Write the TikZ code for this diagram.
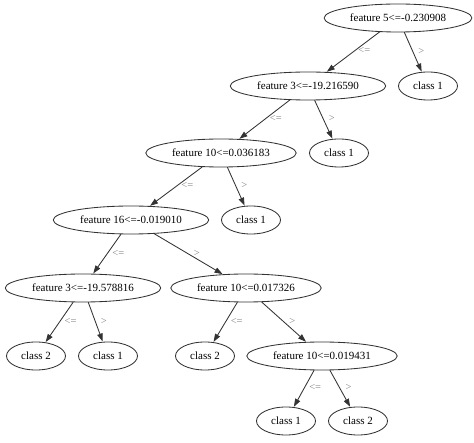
\documentclass[tikz,border=0pt]{standalone}
\usepackage{fontspec}
\setmainfont{Liberation Serif}
\usepackage{xcolor}
\usepackage{tikz}
\usetikzlibrary{shapes.geometric, arrows.meta}

\tikzset{
  split/.style={ellipse, draw=black!80, line width=0.85pt, inner sep=4.2pt, minimum height=28pt,
    font=\fontsize{11}{13}\selectfont},
  leaf/.style={split, minimum width=59pt},
  edge/.style={draw=black!80, line width=0.85pt, -{Triangle[length=8pt, width=5.5pt]}, shorten >=0.3pt},
  lbl/.style={right, inner sep=0pt, xshift=5pt, yshift=1pt, text=black!50, font=\fontsize{10.5}{12}\selectfont}
}

\begin{document}
\begin{tikzpicture}[x=1pt, y=-1pt, line cap=round, line join=round]
  \useasboundingbox (0,0) rectangle (474,443);
  % inner splits
  \node[split] (n0) at (398,18)  {feature 5<=-0.230908};
  \node[split] (n1) at (308,86)  {feature 3<=-19.216590};
  \node[split] (n2) at (221,153) {feature 10<=0.036183};
  \node[split] (n3) at (131,220) {feature 16<=-0.019010};
  \node[split] (n4) at (83,288)  {feature 3<=-19.578816};
  \node[split] (n5) at (246,288) {feature 10<=0.017326};
  \node[split] (n6) at (322,356) {feature 10<=0.019431};
  % leaves
  \node[leaf] (c0) at (428,86)  {class 1};
  \node[leaf] (c1) at (339,153) {class 1};
  \node[leaf] (c2) at (251,220) {class 1};
  \node[leaf] (c3) at (36,356)  {class 2};
  \node[leaf] (c4) at (108,356) {class 1};
  \node[leaf] (c5) at (205,356) {class 2};
  \node[leaf] (c6) at (286,421) {class 1};
  \node[leaf] (c7) at (358,421) {class 2};
  % branches
  \foreach \a/\b/\l in {n0/n1/{<=}, n0/c0/{>}, n1/n2/{<=}, n1/c1/{>},
      n2/n3/{<=}, n2/c2/{>}, n3/n4/{<=}, n3/n5/{>}, n4/c3/{<=}, n4/c4/{>},
      n5/c5/{<=}, n5/n6/{>}, n6/c6/{<=}, n6/c7/{>}} {
    \draw[edge] (\a) -- node[lbl] {\l} (\b);
  }
\end{tikzpicture}
\end{document}
